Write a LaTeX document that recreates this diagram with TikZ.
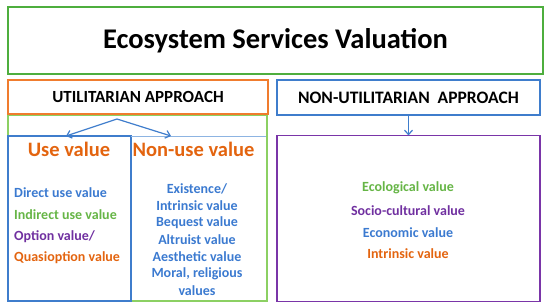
\documentclass[tikz,border=0pt]{standalone}
\usepackage{fontspec}
\setmainfont{Carlito}
\usetikzlibrary{arrows.meta}
\definecolor{tgreen}{HTML}{4EAE3E}
\definecolor{lgreen}{HTML}{8CD063}
\definecolor{borange}{HTML}{F07C2E}
\definecolor{bblue}{HTML}{3F7DCC}
\definecolor{lblue}{HTML}{8DB4E2}
\definecolor{bpurple}{HTML}{7A35A8}
\definecolor{txblue}{HTML}{3B7AD0}
\definecolor{txgreen}{HTML}{66B546}
\definecolor{txpurple}{HTML}{7030A0}
\definecolor{txorange}{HTML}{E3640F}
\tikzset{
  frame/.style={draw, line width=1.8pt, inner sep=0pt, outer sep=0pt},
  lst/.style={font=\bfseries\fontsize{14}{16}\selectfont, inner sep=0pt},
  head/.style={font=\bfseries\fontsize{20.5}{22}\selectfont, text=txorange, inner sep=0pt},
  arr/.style={draw=bblue, line width=1.2pt, -{Straight Barb[length=4.5pt,width=8pt]}}
}
\begin{document}
\begin{tikzpicture}[x=1pt,y=-1pt]
\useasboundingbox (0,0) rectangle (550,308);
% title
\node[frame, draw=tgreen, line width=2.2pt, minimum width=535pt, minimum height=67pt,
      font=\bfseries\fontsize{28.5}{32}\selectfont] (title) at (275.5,40.5) {Ecosystem Services Valuation};
% utilitarian
\node[frame, draw=lgreen, minimum width=259pt, minimum height=186pt] (ugreen) at (137.5,208) {};
\node[frame, draw=borange, minimum width=260pt, minimum height=34pt,
      font=\bfseries\fontsize{17}{19}\selectfont] (util) at (138,97) {UTILITARIAN APPROACH};
\node[frame, draw=bblue, minimum width=123pt, minimum height=165pt] (use) at (69.5,218.5) {};
\coordinate (lineend) at (266,136);
\draw[lblue, line width=0.8pt] (use.north east) -- (lineend);
\coordinate (apex) at (117,119);
\coordinate (usetop) at (66,136);
\coordinate (nontop) at (171,136);
\draw[arr] (apex) -- (usetop);
\draw[arr] (apex) -- (nontop);
\node[head] (usev) at (69,149) {Use value};
\node[head] (nonusev) at (193.5,149) {Non-use value};
\node[lst, text=txblue, anchor=west] (d1) at (14,193) {Direct use value};
\node[lst, text=txgreen, anchor=west] (d2) at (14,215) {Indirect use value};
\node[lst, text=txpurple, anchor=west] (d3) at (14,237) {Option value/};
\node[lst, text=txorange, anchor=west] (d4) at (14,258) {Quasioption value};
\node[lst, text=txblue] (n1) at (197,189) {Existence/};
\node[lst, text=txblue] (n2) at (197,206) {Intrinsic value};
\node[lst, text=txblue] (n3) at (197,223) {Bequest value};
\node[lst, text=txblue] (n4) at (197,240) {Altruist value};
\node[lst, text=txblue] (n5) at (197,257) {Aesthetic value};
\node[lst, text=txblue] (n6) at (197,274) {Moral, religious};
\node[lst, text=txblue] (n7) at (197,291) {values};
% non-utilitarian
\node[frame, draw=bblue, minimum width=263pt, minimum height=35pt,
      font=\bfseries\fontsize{17.5}{19}\selectfont] (nonutil) at (408.5,97.5) {NON-UTILITARIAN\ \ APPROACH};
\node[frame, draw=bpurple, minimum width=263pt, minimum height=166pt] (purple) at (408.5,218.5) {};
\draw[arr] (nonutil.south) -- (purple.north);
\node[lst, text=txgreen] (e1) at (408,188) {Ecological value};
\node[lst, text=txpurple] (e2) at (408,211) {Socio-cultural value};
\node[lst, text=txblue] (e3) at (408,233) {Economic value};
\node[lst, text=txorange] (e4) at (408,254) {Intrinsic value};
\end{tikzpicture}
\end{document}
